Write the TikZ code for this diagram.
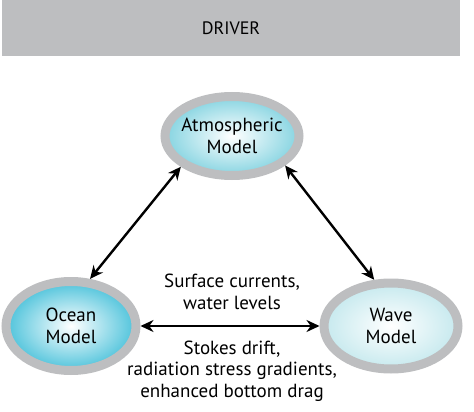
\documentclass[tikz,border=0pt]{standalone}
\usepackage{fontspec}
\setmainfont{PT Sans}
\usepackage{xcolor}
\usetikzlibrary{positioning,shapes.geometric,arrows.meta}

\definecolor{ringgray}{HTML}{BDBEC0}
\definecolor{atmcyan}{HTML}{86D4E1}
\definecolor{ocncyan}{HTML}{4EC3DB}
\definecolor{wavcyan}{HTML}{C6E9EE}

\tikzset{
  model/.style={ellipse, draw=ringgray, line width=9pt, inner sep=-5pt,
    align=center, font=\fontsize{19}{22}\selectfont, shading=radial, inner color=white},
  flux/.style={<->, >={Stealth[length=13pt, width=12pt]}, line width=2.4pt},
  fluxtext/.style={align=center, font=\fontsize{19}{21.5}\selectfont}
}

\begin{document}
\begin{tikzpicture}[x=1pt, y=-1pt]
      \useasboundingbox (0,0) rectangle (474,412);
      \node [rectangle, fill=ringgray, minimum width=458pt, minimum height=56pt,
             font=\fontsize{18}{20}\selectfont] (drv) at (231, 28) {DRIVER};
      \node [model, outer color=atmcyan, minimum width=134pt, minimum height=79pt] (atm) at (232, 136) {Atmospheric\\Model};
      \node [model, outer color=ocncyan, minimum width=130pt, minimum height=89pt] (ocn) at ( 71, 326) {Ocean\\Model};
      \node [model, outer color=wavcyan, minimum width=134pt, minimum height=86pt] (wav) at (391, 326) {Wave\\Model};
      \node [fluxtext] (up) at (232, 292) {Surface currents,\\water levels};
      \node [fluxtext] (dn) at (232, 371) {Stokes drift,\\radiation stress gradients,\\enhanced bottom drag};
      \draw [flux] (atm.211) -- (ocn.68);
      \draw [flux] (atm.331) -- (wav.110);
      \draw [flux] (ocn.east) -- (wav.west);
      \end{tikzpicture}
\end{document}
